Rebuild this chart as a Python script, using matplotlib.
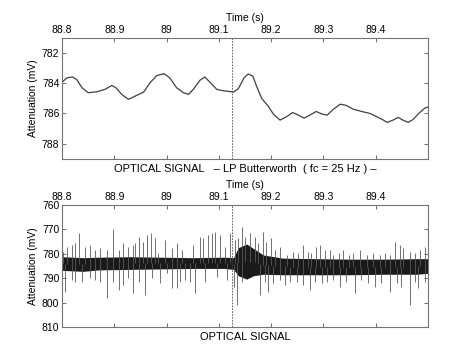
from matplotlib import pyplot as plt
from matplotlib.ticker import FuncFormatter
import numpy as np

plt.rcParams.update({'font.family': ['Liberation Sans', 'DejaVu Sans'],
'font.size': 7.5,
'xtick.labelsize': 7.5,
'ytick.labelsize': 7.5})

# ----------------------------------------------------------------------------------------------------
# filtered signal (upper panel)
t_filt = [88.800, 88.809, 88.820, 88.828, 88.838, 88.850, 88.866, 88.882, 88.895, 88.903,
          88.914, 88.927, 88.940, 88.956, 88.968, 88.981, 88.995, 89.006, 89.019, 89.032,
          89.042, 89.051, 89.064, 89.073, 89.083, 89.096, 89.108, 89.118, 89.128, 89.137,
          89.148, 89.156, 89.165, 89.172, 89.182, 89.194, 89.204, 89.217, 89.230, 89.241,
          89.252, 89.263, 89.274, 89.286, 89.297, 89.307, 89.319, 89.332, 89.343, 89.357,
          89.373, 89.389, 89.401, 89.411, 89.422, 89.433, 89.443, 89.452, 89.462, 89.471,
          89.484, 89.494, 89.500]
att_filt = [783.94, 783.65, 783.59, 783.76, 784.30, 784.63, 784.57, 784.41, 784.15, 784.30,
            784.74, 785.07, 784.85, 784.59, 783.98, 783.50, 783.37, 783.65, 784.30, 784.63,
            784.74, 784.41, 783.80, 783.59, 783.94, 784.41, 784.50, 784.54, 784.59, 784.37,
            783.65, 783.39, 783.54, 784.20, 785.02, 785.50, 786.04, 786.44, 786.20, 785.94,
            786.11, 786.31, 786.11, 785.87, 786.04, 786.11, 785.72, 785.39, 785.46, 785.72,
            785.87, 786.00, 786.20, 786.37, 786.59, 786.44, 786.26, 786.44, 786.59, 786.41,
            785.94, 785.65, 785.57]

# raw signal (lower panel): dense band envelope plus spikes
t_band = [88.800, 88.840, 88.870, 88.930, 88.990, 89.050, 89.110, 89.128, 89.137, 89.153,
          89.166, 89.185, 89.223, 89.287, 89.351, 89.415, 89.478, 89.500]
band_lo = [781.2, 781.6, 781.4, 781.2, 781.4, 781.6, 781.4, 781.6, 777.5, 776.0,
           777.8, 780.5, 781.8, 782.0, 782.2, 782.2, 782.0, 782.0]
band_hi = [786.8, 787.2, 786.6, 786.4, 786.2, 786.0, 786.0, 786.4, 789.0, 790.4,
           789.0, 788.4, 788.6, 788.6, 788.6, 788.4, 788.4, 788.0]

t_up = [88.801, 88.809, 88.819, 88.825, 88.833, 88.844, 88.854, 88.863, 88.873, 88.885,
        88.898, 88.908, 88.917, 88.927, 88.935, 88.940, 88.948, 88.955, 88.963, 88.971,
        88.978, 88.984, 88.997, 89.010, 89.019, 89.030, 89.051, 89.064, 89.070, 89.080,
        89.086, 89.093, 89.102, 89.112, 89.121, 89.131, 89.137, 89.144, 89.150, 89.159,
        89.169, 89.175, 89.185, 89.191, 89.199, 89.207, 89.217, 89.230, 89.242, 89.252,
        89.261, 89.271, 89.277, 89.286, 89.293, 89.303, 89.312, 89.319, 89.329, 89.338,
        89.348, 89.357, 89.370, 89.383, 89.395, 89.408, 89.418, 89.427, 89.437, 89.446,
        89.453, 89.465, 89.475, 89.485, 89.494, 89.500]
att_up = [779.1, 777.1, 776.4, 775.7, 771.6, 777.1, 776.4, 778.4, 777.7, 778.4,
          770.0, 778.4, 775.7, 777.1, 776.4, 775.7, 773.0, 775.0, 772.3, 771.6,
          773.7, 779.8, 774.3, 777.7, 775.7, 778.4, 776.4, 773.0, 773.7, 772.3,
          771.6, 770.9, 772.3, 777.1, 771.6, 774.3, 773.7, 768.9, 773.0, 771.6,
          773.0, 775.7, 770.9, 775.0, 773.7, 778.4, 777.1, 780.5, 779.1, 779.8,
          776.4, 779.1, 779.8, 777.1, 776.4, 778.4, 778.4, 780.5, 779.8, 778.4,
          780.5, 779.8, 778.4, 780.5, 779.8, 780.5, 779.8, 780.5, 775.0, 776.4,
          777.7, 779.1, 779.8, 778.4, 777.1, 779.8]

t_down = [88.806, 88.819, 88.825, 88.838, 88.854, 88.863, 88.873, 88.885, 88.898, 88.908,
          88.917, 88.927, 88.935, 88.948, 88.958, 88.972, 88.987, 89.000, 89.010, 89.019,
          89.026, 89.035, 89.045, 89.054, 89.073, 89.096, 89.115, 89.128, 89.135, 89.144,
          89.179, 89.188, 89.194, 89.204, 89.217, 89.226, 89.236, 89.249, 89.261, 89.274,
          89.283, 89.297, 89.306, 89.319, 89.331, 89.344, 89.360, 89.372, 89.385, 89.398,
          89.411, 89.427, 89.440, 89.449, 89.465, 89.475, 89.481, 89.494]
att_down = [795.5, 790.7, 791.4, 791.4, 790.0, 790.7, 791.4, 798.3, 791.4, 794.8,
            792.8, 790.0, 796.2, 791.4, 796.8, 790.0, 792.1, 788.0, 794.1, 794.1,
            791.4, 790.7, 791.4, 796.2, 791.4, 789.4, 790.7, 793.5, 801.0, 791.4,
            796.8, 791.4, 795.5, 792.1, 790.7, 792.8, 791.4, 791.4, 792.8, 794.8,
            791.4, 792.1, 791.4, 790.7, 793.5, 791.4, 796.2, 790.7, 792.1, 793.5,
            792.1, 795.5, 792.1, 793.5, 801.0, 791.4, 794.1, 791.4]

t_marker = 89.125
xticks = [88.8, 88.9, 89.0, 89.1, 89.2, 89.3, 89.4]

# ----------------------------------------------------------------------------------------------------
def style_axes(ax, ylim, yticks):

    ax.set_xlim(88.8, 89.5)
    ax.set_ylim(ylim)
    ax.invert_yaxis()
    ax.set_xticks(xticks)
    ax.set_yticks(yticks)
    ax.xaxis.set_major_formatter(FuncFormatter(lambda v, p: '{0:g}'.format(round(v, 2))))
    ax.tick_params(direction = 'in', length = 3, width = 0.6, color = '0.35',
                   top = True, bottom = True, left = True, right = True,
                   labeltop = True, labelbottom = False, pad = 2)
    ax.xaxis.set_label_position('top')
    ax.set_xlabel('Time (s)', labelpad = 3)
    ax.set_ylabel('Attenuation (mV)', labelpad = 3)
    for sp in ax.spines.values():
        sp.set_color('0.45')
        sp.set_linewidth(0.8)
    ax.axvline(t_marker, color = '0.3', ls = (0, (2, 1.5)), lw = 0.6)

# ----------------------------------------------------------------------------------------------------
fig = plt.figure(figsize = (4.74, 3.53), dpi = 100)

ax1 = fig.add_axes([0.131, 0.550, 0.772, 0.343])
ax1.plot(t_filt, att_filt, color = '0.25', lw = 0.9)
style_axes(ax1, (781, 789), [782, 784, 786, 788])
ax1.text(0.5, -0.04, 'OPTICAL SIGNAL   \u2013 LP Butterworth  ( fc = 25 Hz ) \u2013',
         transform = ax1.transAxes, ha = 'center', va = 'top', fontsize = 8)

ax2 = fig.add_axes([0.131, 0.074, 0.772, 0.345])
band_mid = [(a + b) / 2 for a, b in zip(band_lo, band_hi)]
ax2.vlines(t_up, np.interp(t_up, t_band, band_mid), att_up, color = '0.35', lw = 0.6)
ax2.vlines(t_down, np.interp(t_down, t_band, band_mid), att_down, color = '0.35', lw = 0.6)
ax2.fill_between(t_band, band_lo, band_hi, color = '0.1', lw = 0)
style_axes(ax2, (760, 810), [760, 770, 780, 790, 800, 810])
ax2.text(0.5, -0.04, 'OPTICAL SIGNAL', transform = ax2.transAxes,
         ha = 'center', va = 'top', fontsize = 8)

plt.savefig('out.png', dpi = 100)
